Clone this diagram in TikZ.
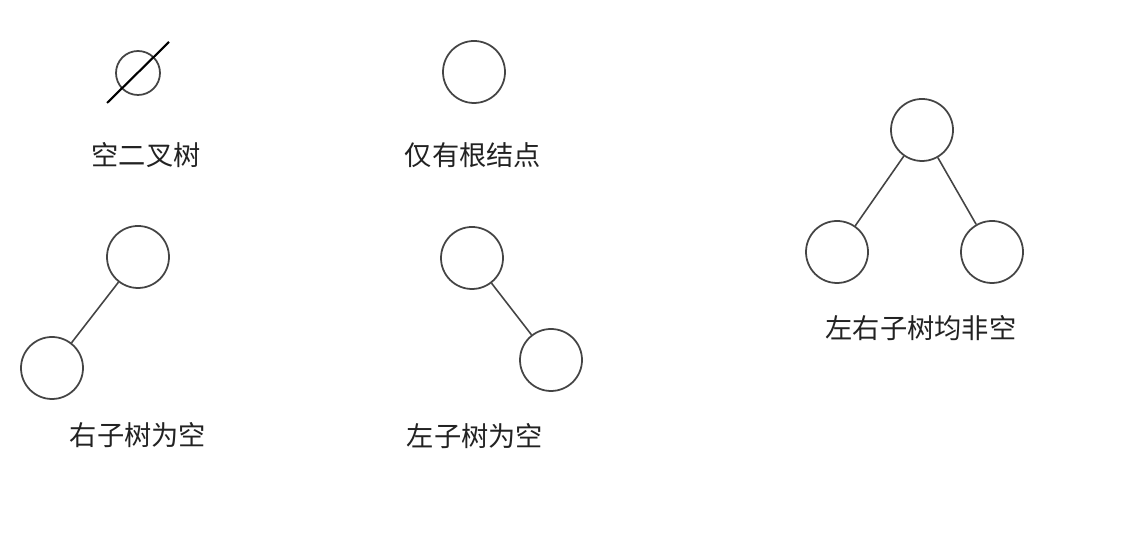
\documentclass[tikz,border=0pt]{standalone}
\usepackage{fontspec}
\usepackage{tikz}
\usepackage{xcolor}
\newfontfamily\cjk{Noto Sans CJK SC}
\definecolor{linegray}{HTML}{444444}
\definecolor{textgray}{HTML}{222222}

\begin{document}
\begin{tikzpicture}[
        treenode/.style={draw=linegray, circle, line width=1pt, minimum size=1.24cm, inner sep=0pt},
        nullnode/.style={draw=linegray, circle, line width=1pt, minimum size=0.88cm, inner sep=0pt},
        edge/.style={draw=linegray, line width=0.9pt},
        caption/.style={text=textgray, font=\cjk\fontsize{15.5}{18}\selectfont}
    ]
            \useasboundingbox (0,0) rectangle (22.86,10.66);

            % empty tree
            \node[nullnode] (empty) at (2.76, 9.20) {};
            \coordinate (slashA) at (2.14, 8.60);
            \coordinate (slashB) at (3.38, 9.82);
            \draw[edge, line width=1.2pt, black] (slashA)--(slashB);
            \node[caption] (emptylabel) at (2.92, 7.56) {空二叉树};

            % root only
            \node[treenode] (single) at (9.48, 9.22) {};
            \node[caption] (singlelabel) at (9.46, 7.56) {仅有根结点};

            % right subtree empty
            \node[treenode] (rroot) at (2.76, 5.52) {};
            \node[treenode] (rleft) at (1.04, 3.30) {};
            \draw[edge] (rroot)--(rleft);
            \node[caption] (rlabel) at (2.76, 1.96) {右子树为空};

            % left subtree empty
            \node[treenode] (lroot) at (9.44, 5.50) {};
            \node[treenode] (lright) at (11.02, 3.46) {};
            \draw[edge] (lroot)--(lright);
            \node[caption] (llabel) at (9.50, 1.94) {左子树为空};

            % both subtrees
            \node[treenode] (froot) at (18.44, 8.06) {};
            \node[treenode] (fleft) at (16.74, 5.62) {};
            \node[treenode] (fright) at (19.84, 5.62) {};
            \draw[edge] (froot)--(fleft);
            \draw[edge] (froot)--(fright);
            \node[caption] (flabel) at (18.42, 4.10) {左右子树均非空};
\end{tikzpicture}
\end{document}
